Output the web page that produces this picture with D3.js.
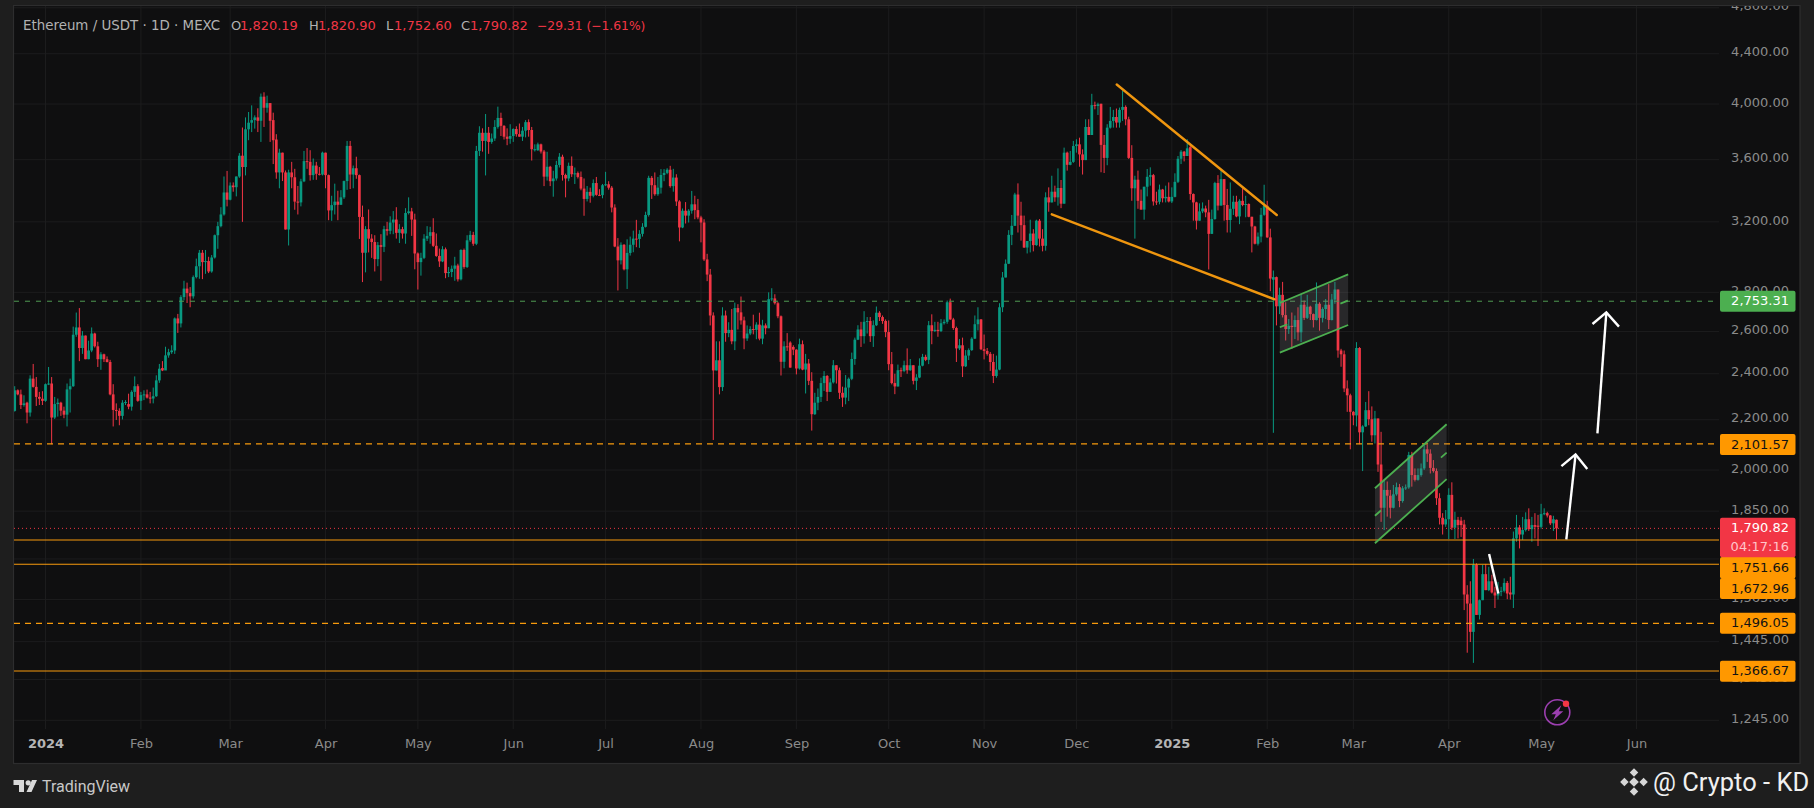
<!DOCTYPE html>
<html><head><meta charset="utf-8">
<style>html,body{margin:0;background:#1e1e1e;overflow:hidden}svg{display:block}text{font-family:"DejaVu Sans",sans-serif}</style>
<script src="https://cdn.jsdelivr.net/npm/d3@7"></script></head>
<body><svg id="c" width="1814" height="808"></svg>
<script>
const opens=[
2237,2326,2308,2262,2272,2230,2378,2341,2297,2289,
2280,2353,2356,2209,2266,2272,2238,2221,2330,2344,
2584,2620,2520,2580,2467,2508,2590,2528,2467,2490,
2467,2454,2308,2241,2237,2216,2272,2266,2255,2319,
2344,2280,2305,2308,2294,2290,2300,2370,2426,2415,
2485,2500,2508,2665,2640,2775,2820,2796,2779,2882,
2942,3018,2965,2971,2913,2991,3120,3174,3245,3383,
3337,3428,3417,3487,3627,3550,3813,3861,3880,3900,
3875,4056,3972,4007,3880,3740,3514,3648,3514,3154,
3514,3482,3325,3320,3455,3590,3585,3496,3560,3505,
3500,3648,3496,3270,3303,3325,3305,3352,3457,3695,
3500,3542,3496,3230,3018,3156,3100,3080,2982,3062,
3052,3156,3146,3196,3214,3134,3156,3130,3254,3264,
3214,3014,2965,2989,3100,3116,3138,3058,3000,2969,
3038,2904,2910,2928,2946,2870,3034,2938,3090,3122,
3070,3660,3788,3730,3788,3723,3747,3830,3896,3838,
3760,3745,3765,3815,3778,3760,3803,3865,3808,3665,
3665,3706,3656,3486,3552,3456,3474,3564,3620,3497,
3474,3558,3502,3510,3484,3408,3342,3387,3362,3444,
3368,3366,3430,3436,3414,3288,3054,2975,3064,2925,
3017,3064,3100,3098,3128,3170,3242,3478,3430,3372,
3414,3497,3511,3532,3424,3480,3326,3166,3268,3238,
3268,3308,3272,3227,3196,2980,2896,2680,2415,2462,
2340,2680,2592,2608,2552,2718,2696,2655,2566,2590,
2612,2608,2634,2565,2630,2616,2764,2768,2743,2676,
2455,2528,2546,2525,2512,2424,2538,2419,2447,2368,
2223,2272,2297,2358,2390,2319,2361,2439,2416,2315,
2294,2338,2377,2468,2560,2610,2577,2648,2652,2577,
2631,2694,2672,2652,2597,2444,2358,2343,2416,2413,
2439,2416,2439,2368,2383,2437,2478,2464,2631,2602,
2608,2602,2641,2648,2748,2660,2617,2518,2533,2434,
2484,2510,2565,2636,2660,2514,2506,2492,2454,2390,
2419,2722,2880,2956,3122,3176,3370,3238,3180,3048,
3086,3130,3062,3207,3100,3058,3352,3320,3388,3352,
3412,3312,3648,3565,3585,3694,3706,3636,3597,3830,
3772,3992,3985,4002,3702,3612,3825,3874,3903,3862,
3956,3978,3886,3612,3410,3466,3330,3275,3420,3485,
3496,3326,3324,3402,3346,3355,3326,3355,3452,3606,
3655,3625,3686,3373,3320,3207,3264,3282,3258,3128,
3217,3444,3300,3470,3304,3211,3280,3324,3233,3330,
3304,3310,3231,3172,3070,3112,3243,3299,3107,2868,
2882,2727,2787,2682,2612,2628,2622,2657,2596,2735,
2668,2725,2687,2657,2740,2668,2713,2735,2657,2762,
2815,2508,2490,2334,2304,2233,2218,2520,2148,2172,
2240,2202,2136,2205,2021,1862,1926,1905,1862,1910,
1936,1886,1932,1935,2058,1981,1963,1981,2006,2080,
2063,2008,1996,1896,1827,1804,1822,1908,1793,1820,
1817,1804,1580,1553,1472,1671,1520,1563,1642,1593,
1620,1586,1577,1588,1591,1615,1586,1580,1757,1794,
1770,1785,1822,1788,1802,1800,1796,1840,1843,1835,1808,1820.19];
const closes=[
2326,2308,2262,2269,2230,2378,2341,2297,2289,2280,
2353,2356,2209,2266,2272,2238,2221,2330,2344,2584,
2620,2520,2580,2467,2508,2590,2528,2467,2490,2467,
2454,2308,2241,2237,2216,2272,2275,2255,2319,2344,
2280,2305,2308,2294,2290,2300,2370,2423,2415,2485,
2500,2508,2665,2640,2775,2820,2796,2779,2882,2942,
3018,2965,2971,2913,2991,3120,3174,3245,3383,3337,
3428,3417,3487,3627,3550,3813,3861,3880,3900,3875,
4056,3972,4007,3875,3735,3514,3648,3514,3154,3514,
3482,3325,3320,3455,3590,3585,3496,3560,3505,3500,
3648,3496,3270,3303,3325,3305,3352,3457,3695,3500,
3542,3496,3230,3018,3156,3100,3080,2982,3062,3052,
3156,3146,3196,3214,3134,3156,3130,3254,3264,3214,
3014,2965,2989,3100,3116,3138,3058,3000,2969,3038,
2904,2910,2928,2946,2870,3034,2938,3090,3122,3070,
3660,3788,3730,3788,3723,3747,3830,3896,3838,3760,
3745,3765,3815,3778,3760,3803,3865,3808,3672,3672,
3706,3656,3486,3552,3456,3474,3564,3620,3497,3474,
3558,3502,3508,3484,3408,3342,3387,3362,3444,3368,
3366,3430,3436,3414,3288,3054,2975,3064,2925,3017,
3064,3100,3098,3128,3170,3242,3478,3430,3372,3414,
3497,3511,3532,3424,3480,3326,3166,3268,3238,3268,
3308,3272,3227,3196,2980,2896,2680,2415,2462,2340,
2680,2592,2608,2552,2718,2696,2655,2566,2590,2612,
2608,2634,2565,2630,2616,2764,2768,2743,2676,2455,
2528,2526,2428,2512,2424,2538,2419,2447,2368,2223,
2272,2297,2358,2390,2319,2361,2439,2416,2315,2294,
2338,2377,2468,2560,2610,2577,2648,2652,2577,2631,
2694,2672,2652,2597,2444,2358,2343,2416,2413,2439,
2416,2439,2368,2383,2437,2478,2464,2631,2602,2608,
2602,2641,2648,2748,2660,2617,2518,2533,2434,2484,
2510,2565,2636,2660,2514,2506,2492,2454,2390,2419,
2722,2880,2956,3122,3176,3370,3238,3180,3048,3086,
3130,3062,3207,3100,3058,3352,3320,3388,3352,3412,
3312,3648,3565,3585,3694,3706,3636,3597,3830,3772,
3992,3985,3998,3702,3612,3825,3874,3903,3862,3956,
3978,3886,3612,3410,3466,3330,3275,3420,3485,3496,
3326,3324,3402,3346,3355,3326,3355,3452,3606,3655,
3625,3678,3373,3320,3207,3264,3282,3258,3128,3217,
3444,3300,3470,3304,3211,3280,3324,3233,3330,3304,
3310,3231,3172,3070,3112,3243,3299,3107,2874,2882,
2727,2787,2682,2612,2628,2622,2657,2596,2735,2668,
2725,2687,2657,2740,2668,2713,2735,2657,2762,2815,
2508,2490,2334,2304,2233,2218,2520,2148,2172,2240,
2202,2136,2205,2021,1862,1926,1905,1862,1910,1936,
1886,1932,1935,2058,1981,1963,1981,2006,2080,2063,
2008,1996,1896,1827,1804,1822,1908,1793,1820,1802,
1802,1580,1553,1472,1671,1520,1563,1642,1593,1620,
1586,1577,1588,1591,1615,1583,1580,1757,1794,1770,
1785,1822,1788,1802,1796,1796,1840,1843,1835,1808,1822,1790.82];
const highs=[
2344,2330,2329,2304,2276,2393,2445,2385,2319,2322,
2356,2431,2385,2297,2290,2276,2255,2356,2378,2624,
2695,2718,2602,2580,2555,2620,2594,2550,2500,2493,
2480,2464,2353,2269,2248,2283,2283,2311,2326,2388,
2353,2319,2326,2329,2319,2338,2393,2445,2458,2526,
2516,2533,2670,2688,2785,2862,2852,2828,2891,2985,
3034,3034,3034,2995,3005,3124,3200,3290,3487,3524,
3448,3448,3487,3645,3826,3900,3940,3990,3915,3968,
4080,4090,4064,4007,3935,3778,3675,3648,3527,3532,
3585,3538,3425,3472,3660,3680,3665,3608,3585,3550,
3655,3648,3500,3362,3440,3394,3398,3460,3730,3730,
3560,3620,3500,3300,3174,3276,3126,3120,3080,3126,
3176,3200,3234,3266,3290,3186,3170,3284,3352,3286,
3250,3020,3018,3126,3174,3170,3222,3130,3042,3056,
3048,2938,2946,2995,2956,3038,3042,3120,3146,3140,
3695,3835,3820,3925,3830,3783,3880,3980,3935,3843,
3820,3850,3820,3835,3855,3830,3880,3885,3830,3706,
3718,3711,3667,3654,3558,3525,3592,3645,3634,3506,
3580,3622,3547,3520,3520,3474,3425,3414,3468,3484,
3404,3438,3518,3456,3425,3308,3103,3078,3068,3096,
3112,3147,3212,3150,3192,3262,3492,3490,3514,3484,
3536,3536,3542,3558,3538,3502,3334,3282,3322,3278,
3393,3362,3342,3237,3216,3012,2927,2696,2552,2552,
2722,2705,2646,2713,2746,2738,2778,2674,2630,2626,
2684,2646,2694,2658,2640,2800,2822,2790,2750,2680,
2552,2592,2552,2533,2514,2565,2556,2492,2468,2407,
2315,2334,2382,2412,2394,2379,2463,2439,2428,2342,
2394,2383,2498,2570,2631,2648,2702,2672,2672,2655,
2726,2702,2680,2660,2655,2501,2400,2442,2428,2460,
2518,2468,2439,2398,2471,2492,2488,2652,2686,2648,
2648,2662,2660,2757,2767,2668,2624,2563,2570,2510,
2518,2572,2680,2722,2662,2585,2520,2501,2492,2484,
2743,2910,2980,3150,3242,3381,3442,3324,3238,3086,
3213,3156,3213,3217,3156,3384,3416,3492,3427,3541,
3464,3683,3655,3660,3730,3742,3753,3671,3886,3886,
4078,4018,4010,4002,3772,3850,3978,3956,3966,3973,
4103,3990,3905,3700,3492,3526,3402,3420,3537,3548,
3504,3388,3434,3406,3427,3448,3416,3508,3625,3666,
3660,3742,3706,3377,3324,3314,3320,3300,3336,3275,
3452,3496,3526,3470,3406,3448,3362,3362,3340,3410,
3362,3314,3231,3176,3136,3286,3433,3330,3159,2918,
2885,2825,2856,2748,2662,2695,2680,2722,2792,2757,
2787,2730,2690,2853,2748,2722,2765,2844,2792,2856,
2815,2516,2508,2370,2311,2236,2548,2524,2177,2275,
2322,2256,2237,2205,2150,1963,1957,1926,1944,1953,
1948,1940,1946,2070,2070,2006,2006,2025,2103,2097,
2080,2038,2006,1914,1843,1854,1932,1954,1848,1830,
1830,1820,1608,1620,1690,1676,1565,1671,1674,1665,
1640,1603,1618,1603,1629,1621,1634,1780,1837,1802,
1830,1846,1860,1830,1843,1837,1876,1860,1848,1836,1834,1820.90];
const lows=[
2234,2304,2245,2255,2185,2213,2338,2258,2262,2262,
2276,2349,2100,2203,2213,2216,2206,2172,2230,2341,
2574,2458,2492,2467,2467,2500,2522,2431,2418,2454,
2452,2304,2172,2199,2177,2201,2262,2244,2238,2297,
2276,2241,2283,2290,2269,2269,2297,2359,2412,2418,
2474,2492,2492,2593,2620,2758,2744,2722,2767,2875,
2873,2871,2900,2904,2906,2985,3041,3167,3238,3295,
3333,3388,3358,3478,3200,3494,3735,3793,3818,3793,
3723,3830,3935,3723,3570,3472,3410,3457,3154,3060,
3410,3274,3245,3295,3450,3538,3460,3465,3465,3494,
3494,3410,3210,3206,3245,3210,3305,3342,3400,3405,
3410,3472,3098,2855,2908,3020,2989,2913,2942,2862,
3022,3118,3126,3126,3100,3074,3100,3070,3245,3116,
2925,2815,2890,2982,3086,3070,3052,2995,2938,2965,
2876,2882,2882,2862,2858,2864,2928,2932,3080,3058,
3062,3625,3655,3494,3640,3710,3730,3818,3765,3740,
3700,3710,3723,3760,3760,3730,3755,3760,3594,3656,
3660,3642,3424,3460,3424,3356,3460,3547,3460,3352,
3456,3484,3438,3474,3397,3237,3326,3318,3352,3362,
3362,3346,3424,3401,3258,3050,2810,2952,2919,2818,
3002,3021,3050,3046,3112,3166,3232,3342,3362,3362,
3376,3456,3502,3414,3388,3298,3084,3162,3190,3196,
3250,3216,3216,3078,2971,2860,2630,2117,2415,2308,
2323,2550,2572,2538,2510,2610,2634,2514,2554,2582,
2586,2562,2557,2538,2586,2616,2754,2736,2666,2392,
2425,2506,2428,2486,2397,2419,2416,2312,2349,2155,
2220,2240,2275,2323,2279,2319,2356,2356,2288,2254,
2265,2279,2371,2441,2558,2525,2541,2590,2549,2525,
2627,2652,2638,2572,2416,2352,2309,2342,2385,2407,
2400,2413,2352,2327,2380,2434,2458,2444,2538,2597,
2574,2597,2634,2638,2658,2608,2454,2510,2385,2431,
2463,2506,2563,2605,2510,2466,2484,2413,2358,2382,
2416,2697,2880,2954,3062,3176,3136,3088,3046,3014,
3020,3026,3058,3054,3026,3030,3262,3320,3324,3300,
3284,3312,3526,3562,3578,3648,3552,3500,3597,3772,
3772,3960,3918,3515,3510,3562,3818,3825,3825,3825,
3874,3842,3605,3330,3100,3280,3275,3213,3358,3427,
3300,3304,3308,3320,3320,3320,3316,3352,3444,3570,
3588,3625,3336,3207,3154,3207,3253,3228,2924,3128,
3213,3270,3300,3207,3136,3136,3242,3228,3186,3296,
3228,3228,3020,3066,3060,3078,3237,3105,2806,2146,
2630,2687,2670,2556,2588,2516,2563,2556,2548,2657,
2662,2657,2620,2655,2604,2645,2662,2612,2655,2740,
2474,2432,2318,2233,2080,2177,2172,2100,1996,2170,
2177,2110,2103,1993,1813,1785,1831,1825,1860,1905,
1864,1880,1926,1930,1938,1957,1960,1975,2000,2031,
1987,1990,1872,1804,1770,1796,1755,1785,1755,1757,
1762,1534,1415,1444,1388,1520,1507,1563,1593,1590,
1583,1540,1565,1575,1586,1566,1565,1540,1746,1724,
1752,1780,1782,1746,1757,1732,1790,1836,1828,1802,1782,1752.60];
const firstCandle="2023-12-22";

const priceTicks=[4800,4400,4000,3600,3200,2800,2600,2400,2200,2000,1850,1690,1565,1445,1345,1245];
const monthTicks=["2024-01-01","2024-02-01","2024-03-01","2024-04-01","2024-05-01","2024-06-01","2024-07-01","2024-08-01","2024-09-01","2024-10-01","2024-11-01","2024-12-01","2025-01-01","2025-02-01","2025-03-01","2025-04-01","2025-05-01","2025-06-01"];
const monthLabels=["2024","Feb","Mar","Apr","May","Jun","Jul","Aug","Sep","Oct","Nov","Dec","2025","Feb","Mar","Apr","May","Jun"];

const levelPrices=[2753.31,2101.57,1751.66,1672.96,1496.05,1366.67];
const levelKinds=["gd","od","os","os","od","os"];
const lastPrice=1790.82;

// drawings: [day offset from first axis tick, price]
const wedgeLines=[[[348.1,4151],[400.1,3242]],[[327,3246],[399.4,2763]]];
const channelDays=[[401.1,423.3],[432,455.3]];
const channelPrices=[[[2744,2897],[2621,2757],[2498,2632]],[[1932,2181],[1834,2067],[1741,1966]]];
const whiteStrokes=[[[469.1,1706],[472.1,1583]]];
const arrowShafts=[[[494.2,1754],[497.2,2060]],[[504.3,2144],[507.2,2696]]];
const arrowHeads=[[[492.6,2015],[497.2,2060],[501,2004]],[[502.7,2637],[507.2,2696],[511.3,2624]]];

const GREEN="#089981",RED="#f23645",ORANGE="#ff9800",AX="#8b8b8b";
const svg=d3.select("#c");
const parse=s=>new Date(s+"T00:00:00Z");
const t0=parse(monthTicks[0]);
const x=d3.scaleUtc().domain([t0,parse("2025-06-01")]).range([45.5,1636.5]);
const y=d3.scaleLog().domain([1245,4400]).range([720.3,53.7]);
const xd=d=>x(new Date(+t0+d*864e5));
const line=d3.line().x(d=>xd(d[0])).y(d=>y(d[1]));

const defs=svg.append("defs");
defs.append("clipPath").attr("id","pane").append("rect").attr("x",14).attr("y",6).attr("width",1705).attr("height",723);

svg.append("rect").attr("width",1814).attr("height",808).attr("fill","#1e1e1e");
svg.append("rect").attr("x",13.5).attr("y",5.5).attr("width",1786.5).attr("height",758).attr("fill","#0f0f10").attr("stroke","#2d2d2e").attr("stroke-width",1.2);

// grid
const grid=svg.append("g").attr("stroke","#1c1c1d").attr("stroke-width",1);
grid.selectAll("line.h").data(priceTicks).join("line").attr("class","h").attr("x1",14).attr("x2",1719).attr("y1",d=>y(d)).attr("y2",d=>y(d)).attr("clip-path","url(#pane)");
grid.selectAll("line.v").data(monthTicks).join("line").attr("class","v").attr("x1",d=>x(parse(d))).attr("x2",d=>x(parse(d))).attr("y1",6).attr("y2",729);

// axes
const yAxis=d3.axisRight(y).tickValues(priceTicks).tickSize(0).tickPadding(0).tickFormat(d3.format(",.2f"));
defs.append("clipPath").attr("id","axisclipT").append("rect").attr("x",-70).attr("y",8).attr("width",80).attr("height",723);
const ya=svg.append("g").attr("transform","translate(1789,-2)").attr("clip-path","url(#axisclipT)").call(yAxis);
ya.select(".domain").remove();
ya.selectAll("text").attr("text-anchor","end").attr("fill",AX).attr("font-size",13).attr("x",0);
const xAxis=d3.axisBottom(x).tickValues(monthTicks.map(parse)).tickSize(0).tickPadding(0).tickFormat((d,i)=>monthLabels[i]);
const xa=svg.append("g").attr("transform","translate(0,739)").call(xAxis);
xa.select(".domain").remove();
xa.selectAll("text").attr("fill",(d,i)=>/^20/.test(monthLabels[i])?"#b5b5b5":AX).attr("font-weight",(d,i)=>/^20/.test(monthLabels[i])?700:400).attr("font-size",13).attr("dy",".71em");

// candles
const candles=closes.map((c,i)=>({date:d3.utcDay.offset(parse(firstCandle),i),o:opens[i],h:highs[i],l:lows[i],c}));
const pane=svg.append("g").attr("clip-path","url(#pane)");
const col=d=>d.c>=d.o?GREEN:RED;
pane.selectAll("line.w").data(candles).join("line").attr("class","w").attr("x1",d=>x(d.date)).attr("x2",d=>x(d.date)).attr("y1",d=>y(d.h)).attr("y2",d=>y(d.l)).attr("stroke",col).attr("stroke-width",1);
pane.selectAll("rect.b").data(candles).join("rect").attr("class","b").attr("x",d=>x(d.date)-1.35).attr("width",2.7)
 .attr("y",d=>y(Math.max(d.o,d.c))).attr("height",d=>Math.max(1,Math.abs(y(d.o)-y(d.c)))).attr("fill",col);

// levels
const styleOf={gd:{c:"#4f9a52",w:1,d:"5 6"},od:{c:"#f79a0c",w:1.2,d:"6 5"},os:{c:"#f79a0c",w:1.1,d:null}};
pane.selectAll("line.l").data(levelPrices).join("line").attr("class","l").attr("x1",14).attr("x2",1719).attr("y1",d=>y(d)).attr("y2",d=>y(d))
 .attr("stroke",(d,i)=>styleOf[levelKinds[i]].c).attr("stroke-width",(d,i)=>styleOf[levelKinds[i]].w).attr("stroke-dasharray",(d,i)=>styleOf[levelKinds[i]].d);
pane.append("line").attr("x1",14).attr("x2",1719).attr("y1",y(lastPrice)).attr("y2",y(lastPrice)).attr("stroke",RED).attr("stroke-width",1).attr("stroke-dasharray","1 3");

// channels
channelDays.forEach((ds,k)=>{
 const [top,mid,bot]=channelPrices[k];
 pane.append("path").attr("d",line([[ds[0],top[0]],[ds[1],top[1]],[ds[1],bot[1]],[ds[0],bot[0]]])+"Z").attr("fill","rgba(130,130,135,.22)");
 [top,bot].forEach(p=>pane.append("path").attr("d",line([[ds[0],p[0]],[ds[1],p[1]]])).attr("stroke","#4caf50").attr("stroke-width",1.8).attr("fill","none"));
 const len=k?96:73;
 pane.append("path").attr("d",line([[ds[0],mid[0]],[ds[1],mid[1]]])).attr("stroke","#4caf50").attr("stroke-width",1.8).attr("fill","none").attr("stroke-dasharray",`8 ${len-16} 8`);
});
// wedge
wedgeLines.forEach(l=>pane.append("path").attr("d",line(l)).attr("stroke","#ef960f").attr("stroke-width",2.4).attr("fill","none").attr("stroke-linecap","round"));
// white
whiteStrokes.concat(arrowShafts,arrowHeads).forEach(l=>pane.append("path").attr("d",line(l)).attr("stroke","#fff").attr("stroke-width",2.4).attr("fill","none"));

// price labels
const labelBox=(yTop,h,fill,txtFill,lines)=>{
 svg.append("rect").attr("x",1720).attr("y",yTop).attr("width",75.5).attr("height",h).attr("rx",2).attr("fill",fill);
 lines.forEach((t,i)=>svg.append("text").attr("x",1789).attr("y",yTop+14.5+i*19).attr("text-anchor","end").attr("font-size",13).attr("fill",i?"#ffc4ca":txtFill).text(t));
};
const fmt=d3.format(",.2f");
labelBox(290.7,21,"#4caf50","#fff",[fmt(levelPrices[0])]);
labelBox(434,21,ORANGE,"#131313",[fmt(levelPrices[1])]);
labelBox(557,21.5,ORANGE,"#131313",[fmt(levelPrices[2])]);
labelBox(578,21,ORANGE,"#131313",[fmt(levelPrices[3])]);
labelBox(612.7,21,ORANGE,"#131313",[fmt(levelPrices[4])]);
labelBox(660.7,21,ORANGE,"#131313",[fmt(levelPrices[5])]);
labelBox(517.7,39.5,"#f23645","#fff",[fmt(lastPrice),"04:17:16"]);

// header
const hdr=[[23,"Ethereum / USDT · 1D · MEXC","#b2b2b2",13.4],[231,"O","#b2b2b2",13],[240,"1,820.19",RED,13],[309,"H","#b2b2b2",13],[318,"1,820.90",RED,13],[386,"L","#b2b2b2",13],[394,"1,752.60",RED,13],[461,"C","#b2b2b2",13],[470,"1,790.82",RED,13],[537,"−29.31 (−1.61%)",RED,12.3]];
svg.append("g").selectAll("text").data(hdr).join("text").attr("x",d=>d[0]).attr("y",30).attr("font-size",d=>d[3]).attr("fill",d=>d[2]).text(d=>d[1]);

// flash icon
const fl=svg.append("g").attr("transform","translate(1557.3,712.3)");
fl.append("circle").attr("r",12.5).attr("fill","none").attr("stroke","#9c3fb0").attr("stroke-width",1.6);
fl.append("path").attr("d","M4,-7 L-6,2 L-1.5,2 L-4,8 L6,-1 L1.5,-1 Z").attr("fill","#9c3fb0");
fl.append("circle").attr("cx",8.7).attr("cy",-8.5).attr("r",3.2).attr("fill",RED);

// footer: TradingView
const tv=svg.append("g").attr("fill","#d8d8d8");
tv.append("path").attr("d","M13.5,780 H24 V792 H19 V785 H13.5 Z M32,780 H37 L31.5,792 H26.5 Z");
tv.append("circle").attr("cx",28.2).attr("cy",782.8).attr("r",2.6);
svg.append("text").attr("x",42).attr("y",792).attr("font-size",16).attr("fill","#c8c8c8").style("font-family","Roboto").text("TradingView");

// footer: watermark
const bn=svg.append("g").attr("transform","translate(1634,782)").attr("fill","#d6d6d6");
[[0,0,6.8],[0,-9.6,6],[0,9.6,6],[-9.6,0,6],[9.6,0,6]].forEach(p=>bn.append("rect").attr("x",-p[2]/2).attr("y",-p[2]/2).attr("width",p[2]).attr("height",p[2]).attr("transform",`translate(${p[0]},${p[1]}) rotate(45)`));
svg.append("text").attr("x",1653).attr("y",791).attr("font-size",25.5).attr("fill","#f0f0f0").style("font-family","Roboto").text("@ Crypto - KD");
</script></body></html>
